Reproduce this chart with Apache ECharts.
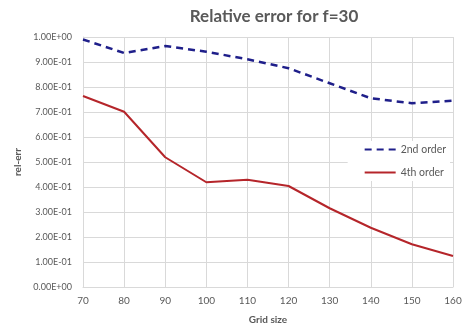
<!DOCTYPE html>
<html>
<head>
<meta charset="utf-8">
<script src="https://cdn.jsdelivr.net/npm/echarts@6/dist/echarts.min.js"></script>
<style>
  html, body { margin: 0; padding: 0; background: #fff; }
  #chart { width: 474px; height: 335px; }
</style>
</head>
<body>
<div id="chart"></div>
<script>
// Grid sizes on the x axis
const gridSizes = [70, 80, 90, 100, 110, 120, 130, 140, 150, 160];
// Relative error for each discretisation order
const secondOrder = [0.990, 0.936, 0.964, 0.941, 0.911, 0.875, 0.815, 0.755, 0.735, 0.745];
const fourthOrder = [0.764, 0.701, 0.519, 0.419, 0.429, 0.404, 0.315, 0.237, 0.171, 0.124];
const seriesNames = ['2nd order', '4th order'];

const font = 'Lato, "Open Sans", sans-serif';
const textGray = '#595959';

// Excel-style scientific notation: 9.00E-01
function sci(v) {
  if (v === 0) return '0.00E+00';
  const s = v.toExponential(2).toUpperCase();
  const m = s.match(/^([\d.]+)E([+-])(\d+)$/);
  return m[1] + 'E' + m[2] + (m[3].length < 2 ? '0' + m[3] : m[3]);
}

const chart = echarts.init(document.getElementById('chart'));
chart.setOption({
  backgroundColor: '#fff',
  animation: false,
  title: {
    text: 'Relative error for f=30',
    left: 269, top: 3, textAlign: 'center',
    textStyle: { fontFamily: font, fontSize: 17, fontWeight: 'bold', color: textGray }
  },
  grid: { left: 83, right: 21, top: 37, bottom: 48 },
  legend: {
    orient: 'vertical',
    right: 24, top: 141,
    itemWidth: 31, itemHeight: 10, itemGap: 12,
    backgroundColor: '#fff',
    padding: [3, 4, 3, 16],
    itemStyle: { opacity: 0 },
    textStyle: { fontFamily: font, fontSize: 10.5, color: textGray },
    data: seriesNames
  },
  xAxis: {
    type: 'value',
    min: 70, max: 160, interval: 10,
    name: 'Grid size', nameLocation: 'middle', nameGap: 28,
    nameTextStyle: { fontFamily: font, fontSize: 10, fontWeight: 'bold', color: textGray },
    axisLine: { show: true, lineStyle: { color: '#d9d9d9' } },
    axisTick: { show: false },
    axisLabel: { fontFamily: font, fontSize: 10, color: textGray, margin: 9 },
    splitLine: { show: true, lineStyle: { color: '#d9d9d9' } }
  },
  yAxis: {
    type: 'value',
    min: 0, max: 1, interval: 0.1,
    name: 'rel-err', nameLocation: 'middle', nameGap: 58, nameRotate: 90,
    nameTextStyle: { fontFamily: font, fontSize: 10, fontWeight: 'bold', color: textGray },
    axisLine: { show: true, lineStyle: { color: '#d9d9d9' } },
    axisTick: { show: false },
    axisLabel: { fontFamily: font, fontSize: 9, color: textGray, margin: 11, formatter: sci },
    splitLine: { show: true, lineStyle: { color: '#d9d9d9' } }
  },
  series: [
    {
      name: seriesNames[0], type: 'line', symbol: 'none',
      data: gridSizes.map((g, i) => [g, secondOrder[i]]),
      lineStyle: { color: '#1f1f8a', width: 2.5, type: [7, 5] },
      itemStyle: { color: '#1f1f8a' }
    },
    {
      name: seriesNames[1], type: 'line', symbol: 'none',
      data: gridSizes.map((g, i) => [g, fourthOrder[i]]),
      lineStyle: { color: '#b5252a', width: 2 },
      itemStyle: { color: '#b5252a' }
    }
  ]
});
</script>
</body>
</html>
